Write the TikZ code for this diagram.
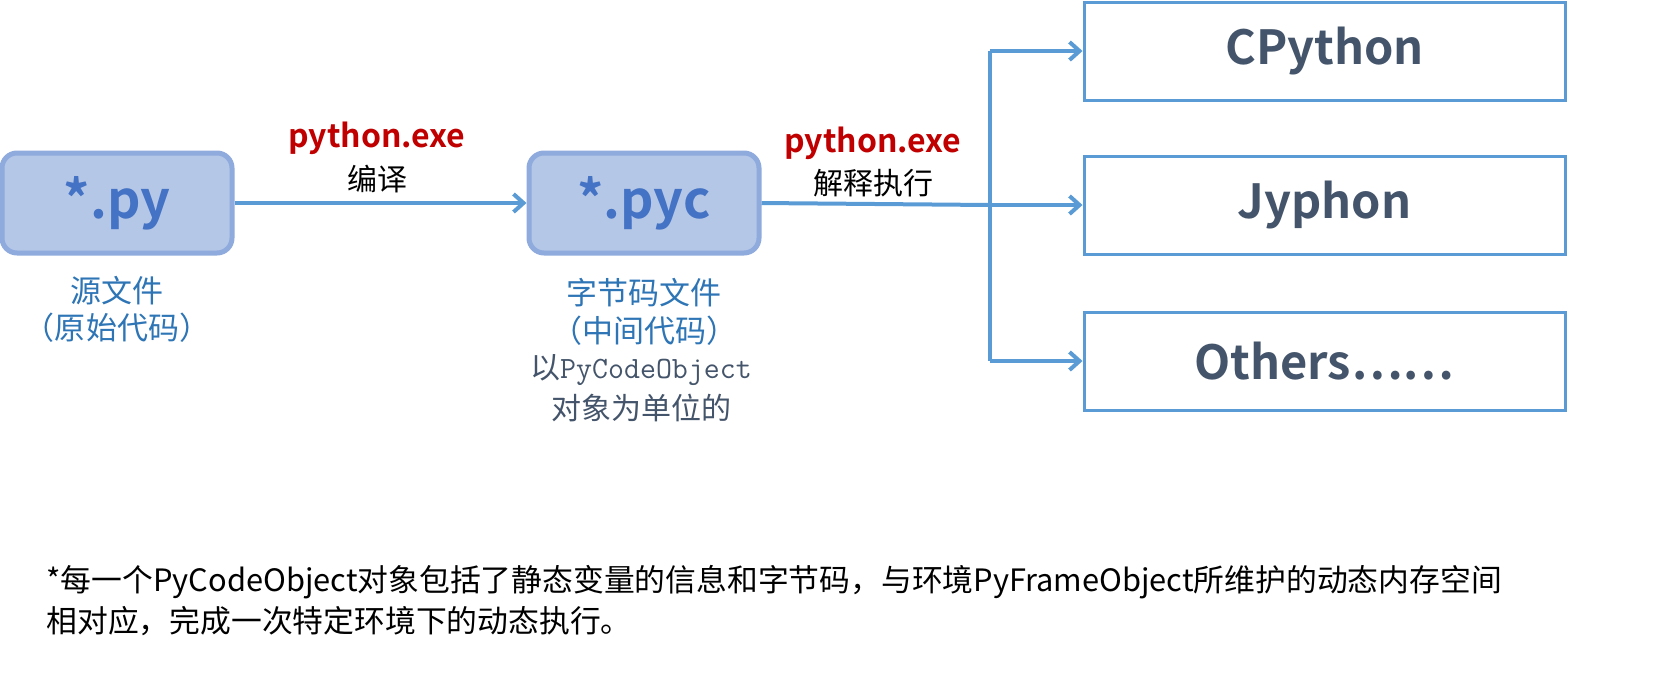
\documentclass[tikz,border=0pt]{standalone}
\usepackage{fontspec}
\setmainfont{Noto Sans CJK SC}[BoldFont={* Bold}]
\usetikzlibrary{arrows.meta}
\definecolor{boxfill}{HTML}{B4C7E7}
\definecolor{boxline}{HTML}{8FAADC}
\definecolor{boxtext}{HTML}{4472C4}
\definecolor{arr}{HTML}{5B9BD5}
\definecolor{redt}{HTML}{C00000}
\definecolor{bluet}{HTML}{2E75B6}
\definecolor{darkt}{HTML}{44546A}
\newcommand{\fs}[1]{\fontsize{#1}{#1}\selectfont}
\begin{document}
\begin{tikzpicture}[x=0.5pt,y=-0.5pt,
  filebox/.style={draw=boxline,line width=2.5pt,fill=boxfill,rounded corners=7.5pt,minimum width=115pt,minimum height=50pt,inner sep=0pt,text=boxtext,font=\fs{26}\bfseries},
  implbox/.style={draw=arr,line width=1.5pt,fill=white,minimum width=240.5pt,minimum height=49pt,inner sep=0pt,text=darkt,font=\fs{23.5}\bfseries},
  conn/.style={draw=arr,line width=2pt},
  arrowtip/.style={-{Straight Barb[length=5pt,width=9pt,line width=2pt]}},
  redlab/.style={text=redt,font=\fs{16}\bfseries,inner sep=0pt},
  blklab/.style={text=black,font=\fs{15}\mdseries,inner sep=0pt},
  bluelab/.style={text=bluet,font=\fs{15.5},inner sep=0pt},
  darklab/.style={text=darkt,font=\fs{15},inner sep=0pt},
  foot/.style={text=black,font=\fs{15.4},inner sep=0pt,anchor=west}
]
\useasboundingbox (0,0) rectangle (1657,692);
\node[filebox] (py) at (117,203) {*.py};
\node[filebox] (pyc) at (644,203) {*.pyc};
\node[implbox] (cp) at (1324.5,51) {CPython};
\node[implbox] (jy) at (1324.5,205) {Jyphon};
\node[implbox] (ot) at (1324.5,361) {Others\ldots\ldots};

\draw[conn,arrowtip] (py.east) -- (pyc.west);
\node[redlab] (l1a) at (377,138) {python.exe};
\node[blklab] (l1b) at (377,179) {编译};
\node[redlab] (l2a) at (873,143) {python.exe};
\node[blklab] (l2b) at (873,183) {解释执行};

\coordinate (j) at (990,205);
\coordinate (jt) at (990,51);
\coordinate (jb) at (990,361);
\draw[conn] (pyc.east) -- (j);
\draw[conn] (jt) -- (jb);
\draw[conn,arrowtip] (jt) -- (cp.west);
\draw[conn,arrowtip] (j) -- (jy.west);
\draw[conn,arrowtip] (jb) -- (ot.west);

\node[bluelab] (s1) at (117,291) {源文件};
\node[bluelab] (s2) at (117,328) {（原始代码）};
\node[bluelab] (c1) at (644,293) {字节码文件};
\node[bluelab] (c2) at (644,331) {（中间代码）};
\node[darklab] (c3) at (641,370) {以{\ttfamily\fs{15.5}PyCodeObject}};
\node[darklab] (c4) at (641,408) {对象为单位的};

\node[foot] (f1) at (46,582) {*每一个PyCodeObject对象包括了静态变量的信息和字节码，与环境PyFrameObject所维护的动态内存空间};
\node[foot] (f2) at (46,621) {相对应，完成一次特定环境下的动态执行。};
\end{tikzpicture}
\end{document}
